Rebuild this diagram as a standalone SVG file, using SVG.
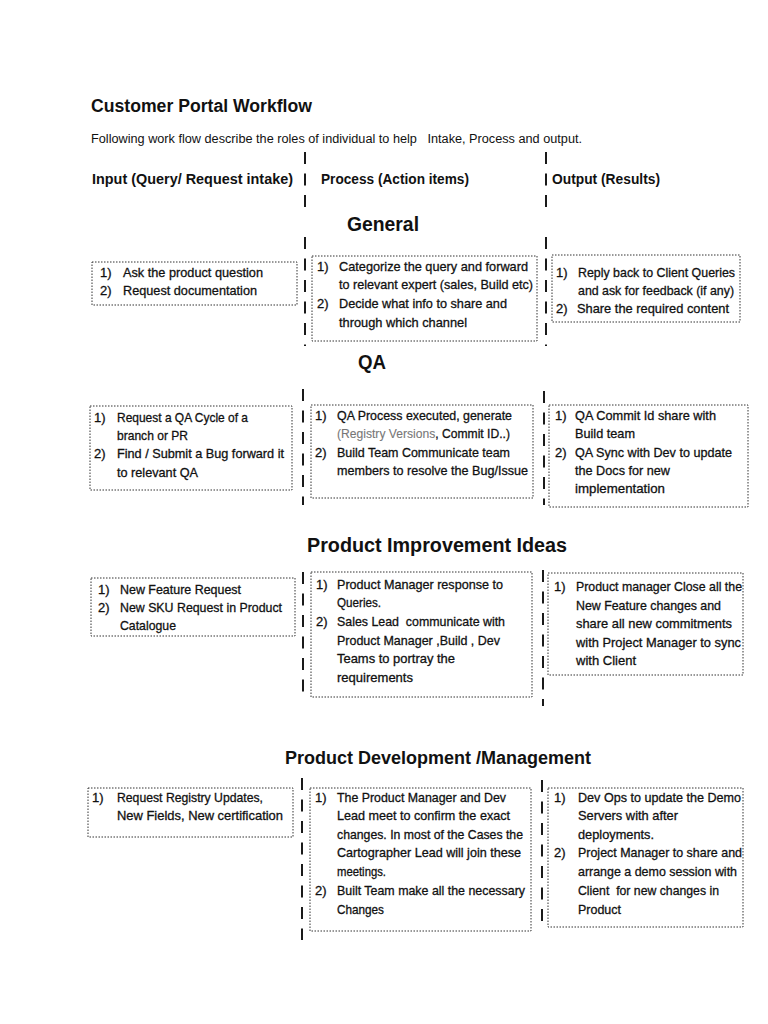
<svg xmlns="http://www.w3.org/2000/svg" width="768" height="1024" viewBox="0 0 768 1024">
<style>
text{font-family:"Liberation Sans",Arial,sans-serif;fill:#111}
.t{font-size:13px;stroke:#111;stroke-width:0.3}
.g{fill:#777;stroke:#777;stroke-width:0.1}
.b{font-weight:bold}
.hd{font-size:14.5px;font-weight:bold}
.sec{font-size:20px;font-weight:bold}
.box{fill:none;stroke:#333;stroke-width:1;stroke-dasharray:1.5 1.5}
.dv{stroke:#1a1a1a;stroke-width:2;stroke-dasharray:12 9.5;fill:none}
</style>
<rect width="768" height="1024" fill="#fff"/>

<g id="title">
<text x="91" y="112" font-size="17.6" class="b" textLength="221" lengthAdjust="spacingAndGlyphs">Customer Portal Workflow</text>
<text x="91" y="143" font-size="12" textLength="491" lengthAdjust="spacingAndGlyphs" xml:space="preserve">Following work flow describe the roles of individual to help   Intake, Process and output.</text>
</g>

<g id="column-headers">
<text x="92" y="184" class="hd" textLength="201" lengthAdjust="spacingAndGlyphs">Input (Query/ Request intake)</text>
<text x="321" y="184" class="hd" textLength="148" lengthAdjust="spacingAndGlyphs">Process (Action items)</text>
<text x="552" y="184" class="hd" textLength="108" lengthAdjust="spacingAndGlyphs">Output (Results)</text>
</g>

<g id="dividers">
<line class="dv" x1="305" y1="152" x2="305" y2="212"/>
<line class="dv" x1="305" y1="237" x2="305" y2="346"/>
<line class="dv" x1="546" y1="152" x2="546" y2="212"/>
<line class="dv" x1="546" y1="237" x2="546" y2="346"/>
<line class="dv" x1="303" y1="389" x2="303" y2="505"/>
<line class="dv" x1="544" y1="391" x2="544" y2="505"/>
<line class="dv" x1="303" y1="572" x2="303" y2="692"/>
<line class="dv" x1="543" y1="570" x2="543" y2="706"/>
<line class="dv" x1="302" y1="778" x2="302" y2="940"/>
<line class="dv" x1="542" y1="780" x2="542" y2="926"/>
</g>

<!-- General -->
<text id="heading-general" x="347" y="231" class="sec" textLength="72" lengthAdjust="spacingAndGlyphs">General</text>

<g id="general-input">
<rect class="box" x="92" y="262" width="205" height="43"/>
<text class="t" x="100" y="277">1)</text>
<text class="t" x="123" y="277" textLength="140" lengthAdjust="spacingAndGlyphs">Ask the product question</text>
<text class="t" x="100" y="295">2)</text>
<text class="t" x="123" y="295" textLength="134" lengthAdjust="spacingAndGlyphs">Request documentation</text>
</g>

<g id="general-process">
<rect class="box" x="312" y="256" width="225" height="85"/>
<text class="t" x="317" y="271">1)</text>
<text class="t" x="339" y="271" textLength="189" lengthAdjust="spacingAndGlyphs">Categorize the query and forward</text>
<text class="t" x="339" y="289" textLength="194" lengthAdjust="spacingAndGlyphs">to relevant expert (sales, Build etc)</text>
<text class="t" x="317" y="308">2)</text>
<text class="t" x="339" y="308" textLength="168" lengthAdjust="spacingAndGlyphs">Decide what info to share and</text>
<text class="t" x="339" y="327" textLength="128" lengthAdjust="spacingAndGlyphs">through which channel</text>
</g>

<g id="general-output">
<rect class="box" x="552" y="255" width="188" height="67"/>
<text class="t" x="556" y="277">1)</text>
<text class="t" x="578" y="277" textLength="157" lengthAdjust="spacingAndGlyphs">Reply back to Client Queries</text>
<text class="t" x="578" y="295" textLength="156" lengthAdjust="spacingAndGlyphs">and ask for feedback (if any)</text>
<text class="t" x="556" y="313">2)</text>
<text class="t" x="577" y="313" textLength="152" lengthAdjust="spacingAndGlyphs">Share the required content</text>
</g>

<!-- QA -->
<text id="heading-qa" x="358" y="369" class="sec" textLength="28" lengthAdjust="spacingAndGlyphs">QA</text>

<g id="qa-input">
<rect class="box" x="90" y="406" width="202" height="84"/>
<text class="t" x="94" y="422">1)</text>
<text class="t" x="117" y="422" textLength="131" lengthAdjust="spacingAndGlyphs">Request a QA Cycle of a</text>
<text class="t" x="117" y="440" textLength="71" lengthAdjust="spacingAndGlyphs">branch or PR</text>
<text class="t" x="94" y="458">2)</text>
<text class="t" x="117" y="458" textLength="167" lengthAdjust="spacingAndGlyphs">Find / Submit a Bug forward it</text>
<text class="t" x="117" y="477" textLength="81" lengthAdjust="spacingAndGlyphs">to relevant QA</text>
</g>

<g id="qa-process">
<rect class="box" x="311" y="405" width="222" height="93"/>
<text class="t" x="315" y="420">1)</text>
<text class="t" x="337" y="420" textLength="175" lengthAdjust="spacingAndGlyphs">QA Process executed, generate</text>
<text class="t" x="337" y="438" textLength="173" lengthAdjust="spacingAndGlyphs"><tspan class="g">(Registry Versions</tspan>, Commit ID..)</text>
<text class="t" x="315" y="457">2)</text>
<text class="t" x="337" y="457" textLength="173" lengthAdjust="spacingAndGlyphs">Build Team Communicate team</text>
<text class="t" x="337" y="475" textLength="191" lengthAdjust="spacingAndGlyphs">members to resolve the Bug/Issue</text>
</g>

<g id="qa-output">
<rect class="box" x="549" y="405" width="199" height="102"/>
<text class="t" x="555" y="420">1)</text>
<text class="t" x="575" y="420" textLength="141" lengthAdjust="spacingAndGlyphs">QA Commit Id share with</text>
<text class="t" x="575" y="438" textLength="60" lengthAdjust="spacingAndGlyphs">Build team</text>
<text class="t" x="555" y="457">2)</text>
<text class="t" x="575" y="457" textLength="157" lengthAdjust="spacingAndGlyphs">QA Sync with Dev to update</text>
<text class="t" x="575" y="475" textLength="95" lengthAdjust="spacingAndGlyphs">the Docs for new</text>
<text class="t" x="575" y="493" textLength="90" lengthAdjust="spacingAndGlyphs">implementation</text>
</g>

<!-- Product Improvement Ideas -->
<text id="heading-pii" x="307" y="552" class="sec" textLength="260" lengthAdjust="spacingAndGlyphs">Product Improvement Ideas</text>

<g id="pii-input">
<rect class="box" x="91" y="578" width="204" height="58"/>
<text class="t" x="98" y="594">1)</text>
<text class="t" x="120" y="594" textLength="121" lengthAdjust="spacingAndGlyphs">New Feature Request</text>
<text class="t" x="98" y="612">2)</text>
<text class="t" x="120" y="612" textLength="162" lengthAdjust="spacingAndGlyphs">New SKU Request in Product</text>
<text class="t" x="120" y="630" textLength="56" lengthAdjust="spacingAndGlyphs">Catalogue</text>
</g>

<g id="pii-process">
<rect class="box" x="311" y="572" width="221" height="125"/>
<text class="t" x="316" y="589">1)</text>
<text class="t" x="337" y="589" textLength="166" lengthAdjust="spacingAndGlyphs">Product Manager response to</text>
<text class="t" x="337" y="607" textLength="44" lengthAdjust="spacingAndGlyphs">Queries.</text>
<text class="t" x="316" y="626">2)</text>
<text class="t" x="337" y="626" textLength="168" lengthAdjust="spacingAndGlyphs" xml:space="preserve">Sales Lead  communicate with</text>
<text class="t" x="337" y="645" textLength="163" lengthAdjust="spacingAndGlyphs">Product Manager ,Build , Dev</text>
<text class="t" x="337" y="663" textLength="118" lengthAdjust="spacingAndGlyphs">Teams to portray the</text>
<text class="t" x="337" y="682" textLength="76" lengthAdjust="spacingAndGlyphs">requirements</text>
</g>

<g id="pii-output">
<rect class="box" x="548" y="573" width="195" height="102"/>
<text class="t" x="554" y="591">1)</text>
<text class="t" x="576" y="591" textLength="166" lengthAdjust="spacingAndGlyphs">Product manager Close all the</text>
<text class="t" x="576" y="610" textLength="145" lengthAdjust="spacingAndGlyphs">New Feature changes and</text>
<text class="t" x="576" y="628" textLength="156" lengthAdjust="spacingAndGlyphs">share all new commitments</text>
<text class="t" x="576" y="647" textLength="165" lengthAdjust="spacingAndGlyphs">with Project Manager to sync</text>
<text class="t" x="576" y="665" textLength="60" lengthAdjust="spacingAndGlyphs">with Client</text>
</g>

<!-- Product Development /Management -->
<text id="heading-pdm" x="285" y="764" font-size="18" class="b" textLength="306" lengthAdjust="spacingAndGlyphs">Product Development /Management</text>

<g id="pdm-input">
<rect class="box" x="88" y="788" width="205" height="49"/>
<text class="t" x="92" y="802">1)</text>
<text class="t" x="117" y="802" textLength="146" lengthAdjust="spacingAndGlyphs">Request Registry Updates,</text>
<text class="t" x="117" y="820" textLength="166" lengthAdjust="spacingAndGlyphs">New Fields, New certification</text>
</g>

<g id="pdm-process">
<rect class="box" x="310" y="788" width="221" height="143"/>
<text class="t" x="315" y="802">1)</text>
<text class="t" x="337" y="802" textLength="169" lengthAdjust="spacingAndGlyphs">The Product Manager and Dev</text>
<text class="t" x="337" y="820" textLength="173" lengthAdjust="spacingAndGlyphs">Lead meet to confirm the exact</text>
<text class="t" x="337" y="839" textLength="186" lengthAdjust="spacingAndGlyphs">changes. In most of the Cases the</text>
<text class="t" x="337" y="857" textLength="184" lengthAdjust="spacingAndGlyphs">Cartographer Lead will join these</text>
<text class="t" x="337" y="876" textLength="49" lengthAdjust="spacingAndGlyphs">meetings.</text>
<text class="t" x="315" y="895">2)</text>
<text class="t" x="337" y="895" textLength="188" lengthAdjust="spacingAndGlyphs">Built Team make all the necessary</text>
<text class="t" x="337" y="914" textLength="47" lengthAdjust="spacingAndGlyphs">Changes</text>
</g>

<g id="pdm-output">
<rect class="box" x="548" y="788" width="195" height="139"/>
<text class="t" x="554" y="802">1)</text>
<text class="t" x="578" y="802" textLength="163" lengthAdjust="spacingAndGlyphs">Dev Ops to update the Demo</text>
<text class="t" x="578" y="820" textLength="100" lengthAdjust="spacingAndGlyphs">Servers with after</text>
<text class="t" x="578" y="839" textLength="76" lengthAdjust="spacingAndGlyphs">deployments.</text>
<text class="t" x="554" y="857">2)</text>
<text class="t" x="578" y="857" textLength="164" lengthAdjust="spacingAndGlyphs">Project Manager to share and</text>
<text class="t" x="578" y="876" textLength="159" lengthAdjust="spacingAndGlyphs">arrange a demo session with</text>
<text class="t" x="578" y="895" textLength="141" lengthAdjust="spacingAndGlyphs" xml:space="preserve">Client  for new changes in</text>
<text class="t" x="578" y="914" textLength="43" lengthAdjust="spacingAndGlyphs">Product</text>
</g>
</svg>
